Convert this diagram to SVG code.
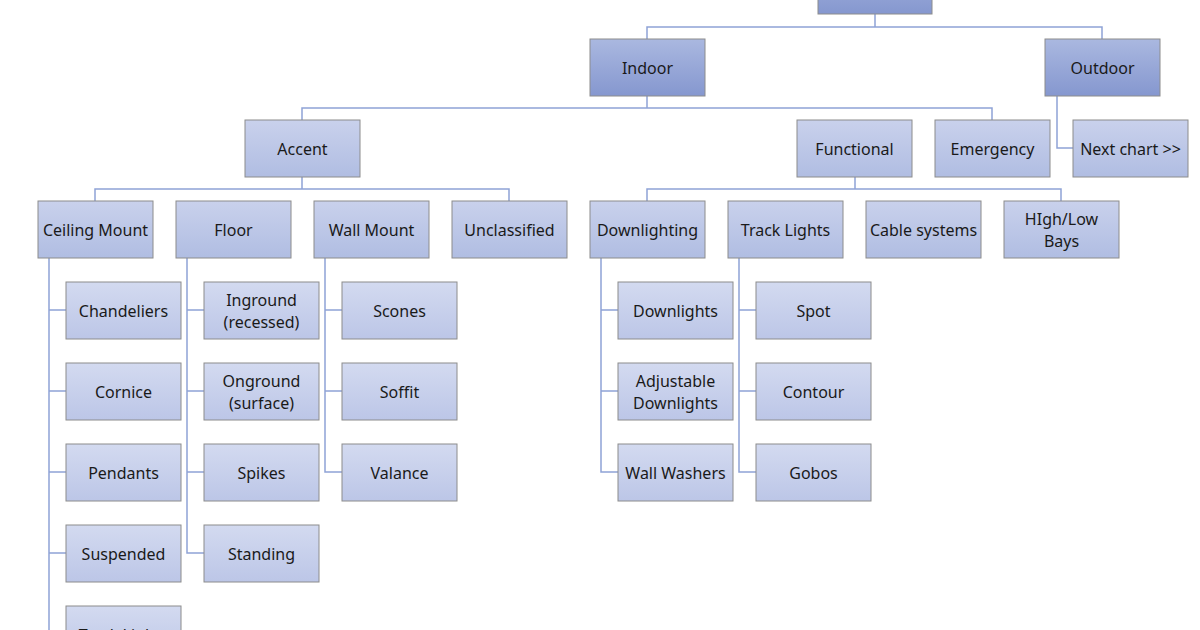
<svg xmlns="http://www.w3.org/2000/svg" width="1200" height="630" viewBox="0 0 1200 630">
<defs>
<linearGradient id="g1" x1="0" y1="0" x2="0" y2="1"><stop offset="0" stop-color="#aab8e0"/><stop offset="1" stop-color="#8597cf"/></linearGradient>
<linearGradient id="g2" x1="0" y1="0" x2="0" y2="1"><stop offset="0" stop-color="#c9d1ec"/><stop offset="1" stop-color="#b0bde2"/></linearGradient>
<linearGradient id="g3" x1="0" y1="0" x2="0" y2="1"><stop offset="0" stop-color="#d3daf0"/><stop offset="1" stop-color="#bcc6e7"/></linearGradient>
</defs>
<style>
rect{stroke:#8c8c8c;stroke-width:1}
.a rect{fill:url(#g1)} .b rect{fill:url(#g2)} .c rect{fill:url(#g3)}
text{font-family:"Noto Sans","Open Sans",sans-serif;font-size:16px;fill:#1a1a1a;text-anchor:middle;dominant-baseline:central}
#connectors path{fill:none;stroke:#8fa3d6;stroke-width:1.5}
</style>
<rect width="1200" height="630" fill="#fff" style="stroke:none"/>
<g id="connectors">
<path d="M875 14V27M647 39V27H1102V39"/>
<path d="M647 96V108M302 120V108H992V120"/>
<path d="M1057 96V148H1073"/>
<path d="M302 177V189M95 201V189H509V201"/>
<path d="M855 177V189M647 201V189H1061V201"/>
<path d="M49 258V630M49 310H66M49 391H66M49 472H66M49 553H66"/>
<path d="M187 258V553H204M187 310H204M187 391H204M187 472H204"/>
<path d="M325 258V472H342M325 310H342M325 391H342"/>
<path d="M601 258V472H618M601 310H618M601 391H618"/>
<path d="M739 258V472H756M739 310H756M739 391H756"/>
</g>
<g class="a">
<g id="root"><rect x="818" y="-43" width="114" height="57"/></g>
<g id="indoor"><rect x="590" y="39" width="115" height="57"/><text x="647.5" y="67.5">Indoor</text></g>
<g id="outdoor"><rect x="1045" y="39" width="115" height="57"/><text x="1102.5" y="67.5">Outdoor</text></g>
</g>
<g class="b">
<g id="accent"><rect x="245" y="120" width="115" height="57"/><text x="302.5" y="148.5">Accent</text></g>
<g id="functional"><rect x="797" y="120" width="115" height="57"/><text x="854.5" y="148.5">Functional</text></g>
<g id="emergency"><rect x="935" y="120" width="115" height="57"/><text x="992.5" y="148.5">Emergency</text></g>
<g id="nextchart"><rect x="1073" y="120" width="115" height="57"/><text x="1130.5" y="148.5">Next chart &gt;&gt;</text></g>
<g id="ceiling"><rect x="38" y="201" width="115" height="57"/><text x="95.5" y="229.5">Ceiling Mount</text></g>
<g id="floor"><rect x="176" y="201" width="115" height="57"/><text x="233.5" y="229.5">Floor</text></g>
<g id="wall"><rect x="314" y="201" width="115" height="57"/><text x="371.5" y="229.5">Wall Mount</text></g>
<g id="unclassified"><rect x="452" y="201" width="115" height="57"/><text x="509.5" y="229.5">Unclassified</text></g>
<g id="downlighting"><rect x="590" y="201" width="115" height="57"/><text x="647.5" y="229.5">Downlighting</text></g>
<g id="track"><rect x="728" y="201" width="115" height="57"/><text x="785.5" y="229.5">Track Lights</text></g>
<g id="cable"><rect x="866" y="201" width="115" height="57"/><text x="923.5" y="229.5">Cable systems</text></g>
<g id="bays"><rect x="1004" y="201" width="115" height="57"/><text x="1061.5" y="218.5">HIgh/Low</text><text x="1061.5" y="240.5">Bays</text></g>
</g>
<g class="c">
<g id="chandeliers"><rect x="66" y="282" width="115" height="57"/><text x="123.5" y="310.5">Chandeliers</text></g>
<g id="cornice"><rect x="66" y="363" width="115" height="57"/><text x="123.5" y="391.5">Cornice</text></g>
<g id="pendants"><rect x="66" y="444" width="115" height="57"/><text x="123.5" y="472.5">Pendants</text></g>
<g id="suspended"><rect x="66" y="525" width="115" height="57"/><text x="123.5" y="553.5">Suspended</text></g>
<g id="tracklight"><rect x="66" y="606" width="115" height="57"/><text x="123.5" y="634.5">Track Lights</text></g>
<g id="inground"><rect x="204" y="282" width="115" height="57"/><text x="261.5" y="299.5">Inground</text><text x="261.5" y="321.5">(recessed)</text></g>
<g id="onground"><rect x="204" y="363" width="115" height="57"/><text x="261.5" y="380.5">Onground</text><text x="261.5" y="402.5">(surface)</text></g>
<g id="spikes"><rect x="204" y="444" width="115" height="57"/><text x="261.5" y="472.5">Spikes</text></g>
<g id="standing"><rect x="204" y="525" width="115" height="57"/><text x="261.5" y="553.5">Standing</text></g>
<g id="scones"><rect x="342" y="282" width="115" height="57"/><text x="399.5" y="310.5">Scones</text></g>
<g id="soffit"><rect x="342" y="363" width="115" height="57"/><text x="399.5" y="391.5">Soffit</text></g>
<g id="valance"><rect x="342" y="444" width="115" height="57"/><text x="399.5" y="472.5">Valance</text></g>
<g id="downlights"><rect x="618" y="282" width="115" height="57"/><text x="675.5" y="310.5">Downlights</text></g>
<g id="adjustable"><rect x="618" y="363" width="115" height="57"/><text x="675.5" y="380.5">Adjustable</text><text x="675.5" y="402.5">Downlights</text></g>
<g id="washers"><rect x="618" y="444" width="115" height="57"/><text x="675.5" y="472.5">Wall Washers</text></g>
<g id="spot"><rect x="756" y="282" width="115" height="57"/><text x="813.5" y="310.5">Spot</text></g>
<g id="contour"><rect x="756" y="363" width="115" height="57"/><text x="813.5" y="391.5">Contour</text></g>
<g id="gobos"><rect x="756" y="444" width="115" height="57"/><text x="813.5" y="472.5">Gobos</text></g>
</g>
</svg>
